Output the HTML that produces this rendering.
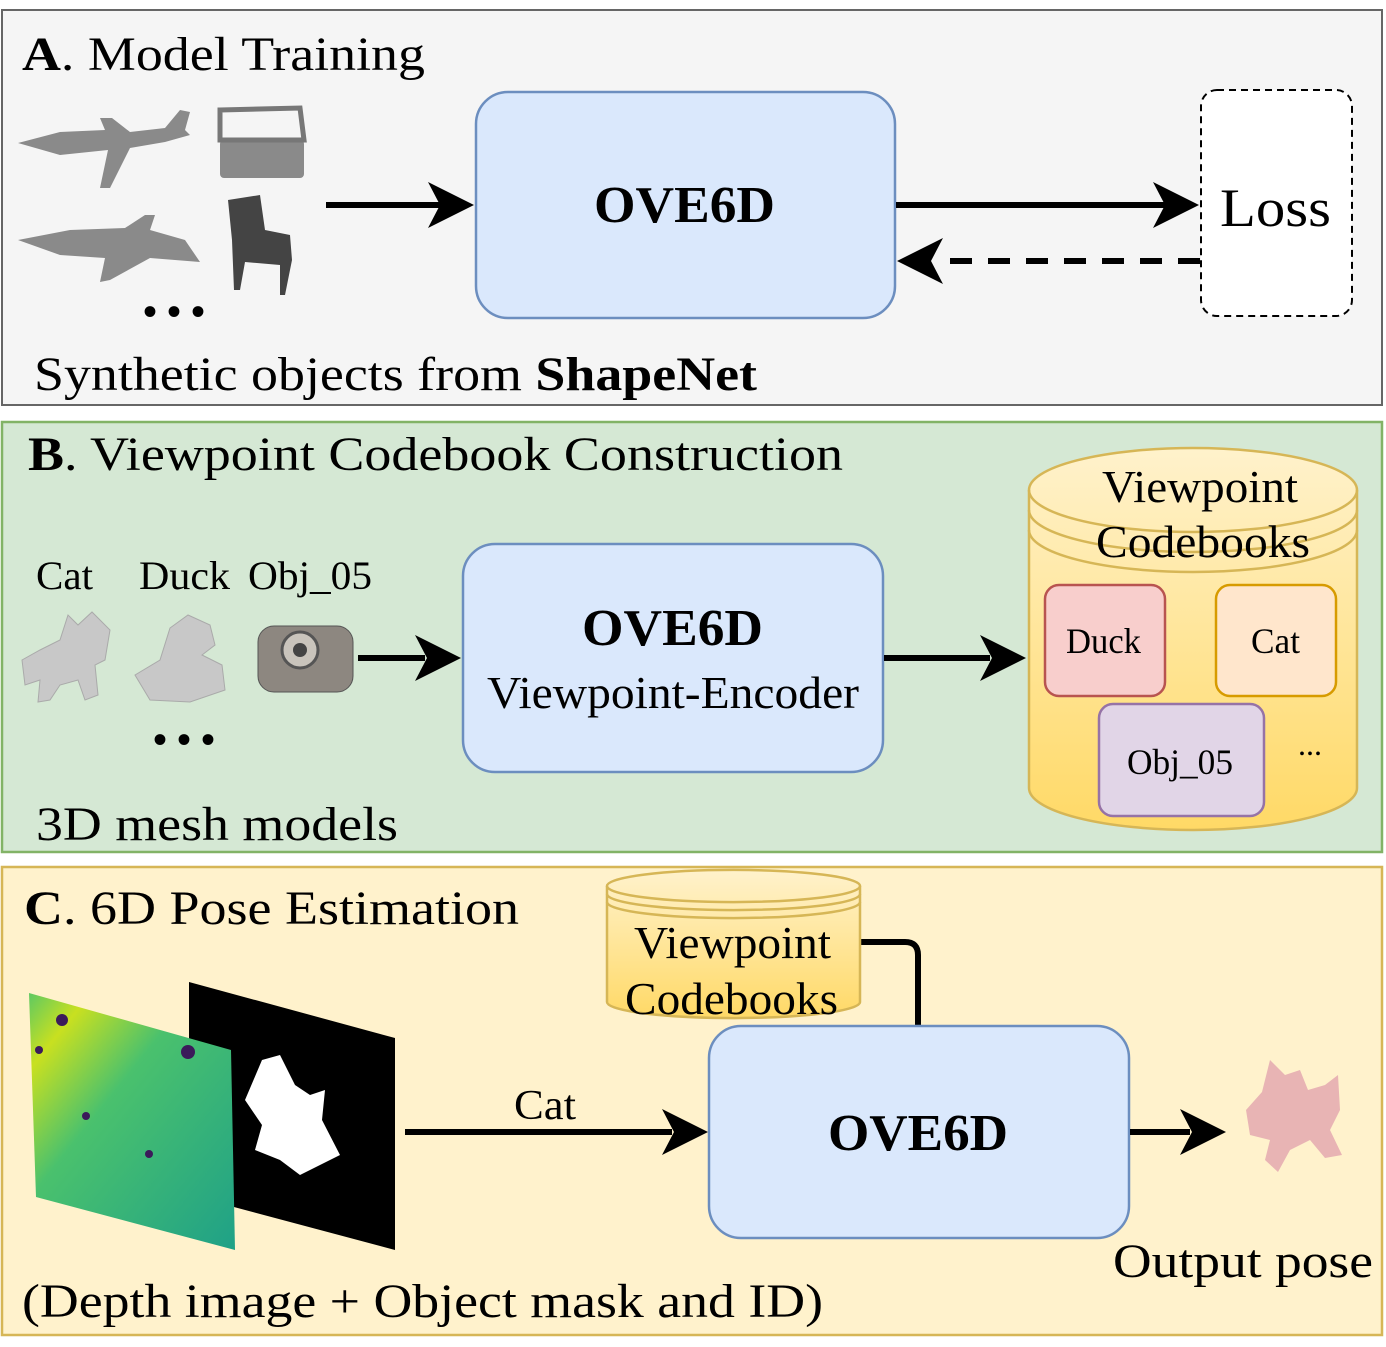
<!DOCTYPE html>
<html><head><meta charset="utf-8"><style>
html,body{margin:0;padding:0;background:#fff}
svg{display:block}
text{font-family:"Liberation Serif",serif}
</style></head><body>
<svg width="1386" height="1347" viewBox="0 0 1386 1347" xmlns="http://www.w3.org/2000/svg">
<defs>
<linearGradient id="yg" x1="0" y1="0" x2="0" y2="1"><stop offset="0" stop-color="#fff2cc"/><stop offset="1" stop-color="#ffd966"/></linearGradient>
<linearGradient id="dg" x1="0" y1="0" x2="1" y2="1"><stop offset="0" stop-color="#5ec962"/><stop offset="0.15" stop-color="#c8e020"/><stop offset="0.4" stop-color="#4ac16d"/><stop offset="1" stop-color="#1fa187"/></linearGradient>
</defs>
<!-- Panel A -->
<rect x="2" y="10" width="1380" height="395" fill="#f5f5f5" stroke="#666" stroke-width="2"/>
<text x="22" y="70" font-size="48" textLength="403" lengthAdjust="spacingAndGlyphs"><tspan font-weight="bold">A</tspan>. Model Training</text>
<g fill="#8a8a8a">
<path d="M18 143 L60 132 L105 130 L100 118 L112 118 L130 132 L165 128 L180 110 L190 112 L185 130 L190 135 L165 142 L130 148 L110 188 L100 188 L108 150 L60 155 Z"/>
<path d="M18 240 L70 230 L125 228 L145 215 L155 215 L150 230 L185 240 L200 262 L150 258 L110 280 L100 282 L105 258 L60 255 Z"/>
<rect x="220" y="140" width="84" height="38" rx="4"/>
<path d="M220 110 L300 108 L304 140 L220 140 Z" fill="none" stroke="#777" stroke-width="5"/>
<path d="M228 200 L260 195 L265 230 L290 235 L292 260 L285 295 L280 295 L280 265 L245 262 L240 290 L234 290 L232 240 Z" fill="#444"/>
</g>
<text x="143" y="325" font-size="40" font-weight="bold">• • •</text>
<text x="34" y="390" font-size="48" textLength="723" lengthAdjust="spacingAndGlyphs">Synthetic objects from <tspan font-weight="bold">ShapeNet</tspan></text>
<rect x="476" y="92" width="419" height="226" rx="32" fill="#dae8fc" stroke="#6c8ebf" stroke-width="2.5"/>
<text x="594" y="222" font-size="52" font-weight="bold" textLength="181" lengthAdjust="spacingAndGlyphs">OVE6D</text>
<line x1="326" y1="205" x2="440" y2="205" stroke="#000" stroke-width="6"/>
<path d="M428 182 L474 205 L428 228 L440 205 Z"/>
<line x1="896" y1="205" x2="1165" y2="205" stroke="#000" stroke-width="6"/>
<path d="M1153 182 L1199 205 L1153 228 L1165 205 Z"/>
<line x1="1200" y1="261" x2="935" y2="261" stroke="#000" stroke-width="6" stroke-dasharray="22,16"/>
<path d="M943 238 L897 261 L943 284 L931 261 Z"/>
<rect x="1201" y="90" width="151" height="226" rx="16" fill="#fff" stroke="#000" stroke-width="2" stroke-dasharray="7,5"/>
<text x="1220" y="226" font-size="54" textLength="111" lengthAdjust="spacingAndGlyphs">Loss</text>
<!-- Panel B -->
<rect x="2" y="422" width="1380" height="430" fill="#d5e8d4" stroke="#82b366" stroke-width="2.5"/>
<text x="28" y="470" font-size="48" textLength="815" lengthAdjust="spacingAndGlyphs"><tspan font-weight="bold">B</tspan>. Viewpoint Codebook Construction</text>
<text x="36" y="589" font-size="40" textLength="57" lengthAdjust="spacingAndGlyphs">Cat</text>
<text x="139" y="589" font-size="40" textLength="91" lengthAdjust="spacingAndGlyphs">Duck</text>
<text x="248" y="589" font-size="40" textLength="124" lengthAdjust="spacingAndGlyphs">Obj_05</text>
<g fill="#c8c8c8" stroke="#aaa" stroke-width="1">
<path d="M22 660 L40 650 L60 640 L68 615 L78 625 L92 612 L110 630 L105 660 L95 665 L98 695 L85 700 L78 680 L60 685 L50 700 L38 702 L40 680 L25 685 Z"/>
<path d="M135 675 L160 660 L170 628 L188 615 L210 625 L215 645 L202 655 L222 665 L225 690 L190 702 L150 700 Z"/>
</g>
<rect x="258" y="626" width="95" height="66" rx="16" fill="#8d8780" stroke="#555"/>
<circle cx="300" cy="650" r="18" fill="#c9c4bc" stroke="#555" stroke-width="3"/>
<circle cx="300" cy="650" r="7" fill="#444"/>
<text x="153" y="753" font-size="40" font-weight="bold">• • •</text>
<text x="36" y="840" font-size="48" textLength="362" lengthAdjust="spacingAndGlyphs">3D mesh models</text>
<rect x="463" y="544" width="420" height="228" rx="32" fill="#dae8fc" stroke="#6c8ebf" stroke-width="2.5"/>
<text x="582" y="645" font-size="52" font-weight="bold" textLength="181" lengthAdjust="spacingAndGlyphs">OVE6D</text>
<text x="487" y="708" font-size="46" textLength="372" lengthAdjust="spacingAndGlyphs">Viewpoint-Encoder</text>
<line x1="358" y1="658" x2="425" y2="658" stroke="#000" stroke-width="6"/>
<path d="M415 635 L461 658 L415 681 L427 658 Z"/>
<line x1="884" y1="658" x2="990" y2="658" stroke="#000" stroke-width="6"/>
<path d="M980 635 L1026 658 L980 681 L992 658 Z"/>
<path d="M1029 490 A164 42 0 0 1 1357 490 L1357 788 A164 42 0 0 1 1029 788 Z" fill="url(#yg)" stroke="#d6b656" stroke-width="2.5"/>
<path d="M1029 490 A164 42 0 0 0 1357 490" fill="none" stroke="#d6b656" stroke-width="2.5"/>
<path d="M1029 510 A164 42 0 0 0 1357 510" fill="none" stroke="#d6b656" stroke-width="2.5"/>
<path d="M1029 530 A164 42 0 0 0 1357 530" fill="none" stroke="#d6b656" stroke-width="2.5"/>
<text x="1102" y="502" font-size="46" textLength="196" lengthAdjust="spacingAndGlyphs">Viewpoint</text>
<text x="1096" y="557" font-size="46" textLength="214" lengthAdjust="spacingAndGlyphs">Codebooks</text>
<rect x="1045" y="585" width="120" height="111" rx="14" fill="#f8cecc" stroke="#b85450" stroke-width="2.5"/>
<text x="1066" y="653" font-size="36" textLength="75" lengthAdjust="spacingAndGlyphs">Duck</text>
<rect x="1216" y="585" width="120" height="111" rx="14" fill="#ffe6cc" stroke="#d79b00" stroke-width="2.5"/>
<text x="1251" y="653" font-size="36" textLength="49" lengthAdjust="spacingAndGlyphs">Cat</text>
<rect x="1099" y="704" width="165" height="112" rx="14" fill="#e1d5e7" stroke="#9673a6" stroke-width="2.5"/>
<text x="1127" y="774" font-size="36" textLength="106" lengthAdjust="spacingAndGlyphs">Obj_05</text>
<text x="1310" y="755" font-size="32" text-anchor="middle">...</text>
<!-- Panel C -->
<rect x="2" y="867" width="1380" height="468" fill="#fff2cc" stroke="#d6b656" stroke-width="2.5"/>
<text x="24" y="924" font-size="48" textLength="495" lengthAdjust="spacingAndGlyphs"><tspan font-weight="bold">C</tspan>. 6D Pose Estimation</text>
<path d="M189 982 L395 1038 L395 1250 L189 1195 Z" fill="#000"/>
<path d="M262 1060 L280 1055 L295 1085 L310 1095 L325 1090 L322 1120 L340 1155 L300 1175 L280 1160 L255 1150 L262 1125 L245 1100 Z" fill="#fff"/>
<path d="M29 993 L231 1050 L235 1250 L36 1197 Z" fill="url(#dg)"/>
<g fill="#3b1a5a"><circle cx="62" cy="1020" r="6"/><circle cx="188" cy="1052" r="7"/><circle cx="39" cy="1050" r="4"/><circle cx="86" cy="1116" r="4"/><circle cx="149" cy="1154" r="4"/></g>
<text x="1113" y="1277" font-size="48" textLength="260" lengthAdjust="spacingAndGlyphs">Output pose</text>
<text x="22" y="1317" font-size="48" textLength="801" lengthAdjust="spacingAndGlyphs">(Depth image + Object mask and ID)</text>
<line x1="405" y1="1132" x2="672" y2="1132" stroke="#000" stroke-width="6"/>
<path d="M662 1109 L708 1132 L662 1155 L674 1132 Z"/>
<text x="514" y="1119" font-size="42" textLength="62" lengthAdjust="spacingAndGlyphs">Cat</text>
<path d="M860 942 L905 942 Q918 942 918 955 L918 1026" fill="none" stroke="#000" stroke-width="6"/>
<path d="M607 886 A126 16 0 0 1 860 886 L860 1002 A126 16 0 0 1 607 1002 Z" fill="url(#yg)" stroke="#d6b656" stroke-width="2.5"/>
<path d="M607 886 A126 16 0 0 0 860 886" fill="none" stroke="#d6b656" stroke-width="2.5"/>
<path d="M607 894 A126 16 0 0 0 860 894" fill="none" stroke="#d6b656" stroke-width="2.5"/>
<path d="M607 902 A126 16 0 0 0 860 902" fill="none" stroke="#d6b656" stroke-width="2.5"/>
<text x="634" y="958" font-size="46" textLength="197" lengthAdjust="spacingAndGlyphs">Viewpoint</text>
<text x="625" y="1014" font-size="46" textLength="213" lengthAdjust="spacingAndGlyphs">Codebooks</text>
<rect x="709" y="1026" width="420" height="212" rx="32" fill="#dae8fc" stroke="#6c8ebf" stroke-width="2.5"/>
<text x="828" y="1150" font-size="52" font-weight="bold" textLength="180" lengthAdjust="spacingAndGlyphs">OVE6D</text>
<line x1="1130" y1="1132" x2="1190" y2="1132" stroke="#000" stroke-width="6"/>
<path d="M1180 1109 L1226 1132 L1180 1155 L1192 1132 Z"/>
<path d="M1246 1110 L1262 1092 L1270 1060 L1285 1075 L1300 1070 L1308 1090 L1325 1085 L1338 1075 L1340 1110 L1330 1130 L1342 1155 L1325 1158 L1310 1140 L1290 1150 L1278 1172 L1265 1160 L1270 1140 L1250 1135 Z" fill="#e8b4b4"/>
</svg>
</body></html>
